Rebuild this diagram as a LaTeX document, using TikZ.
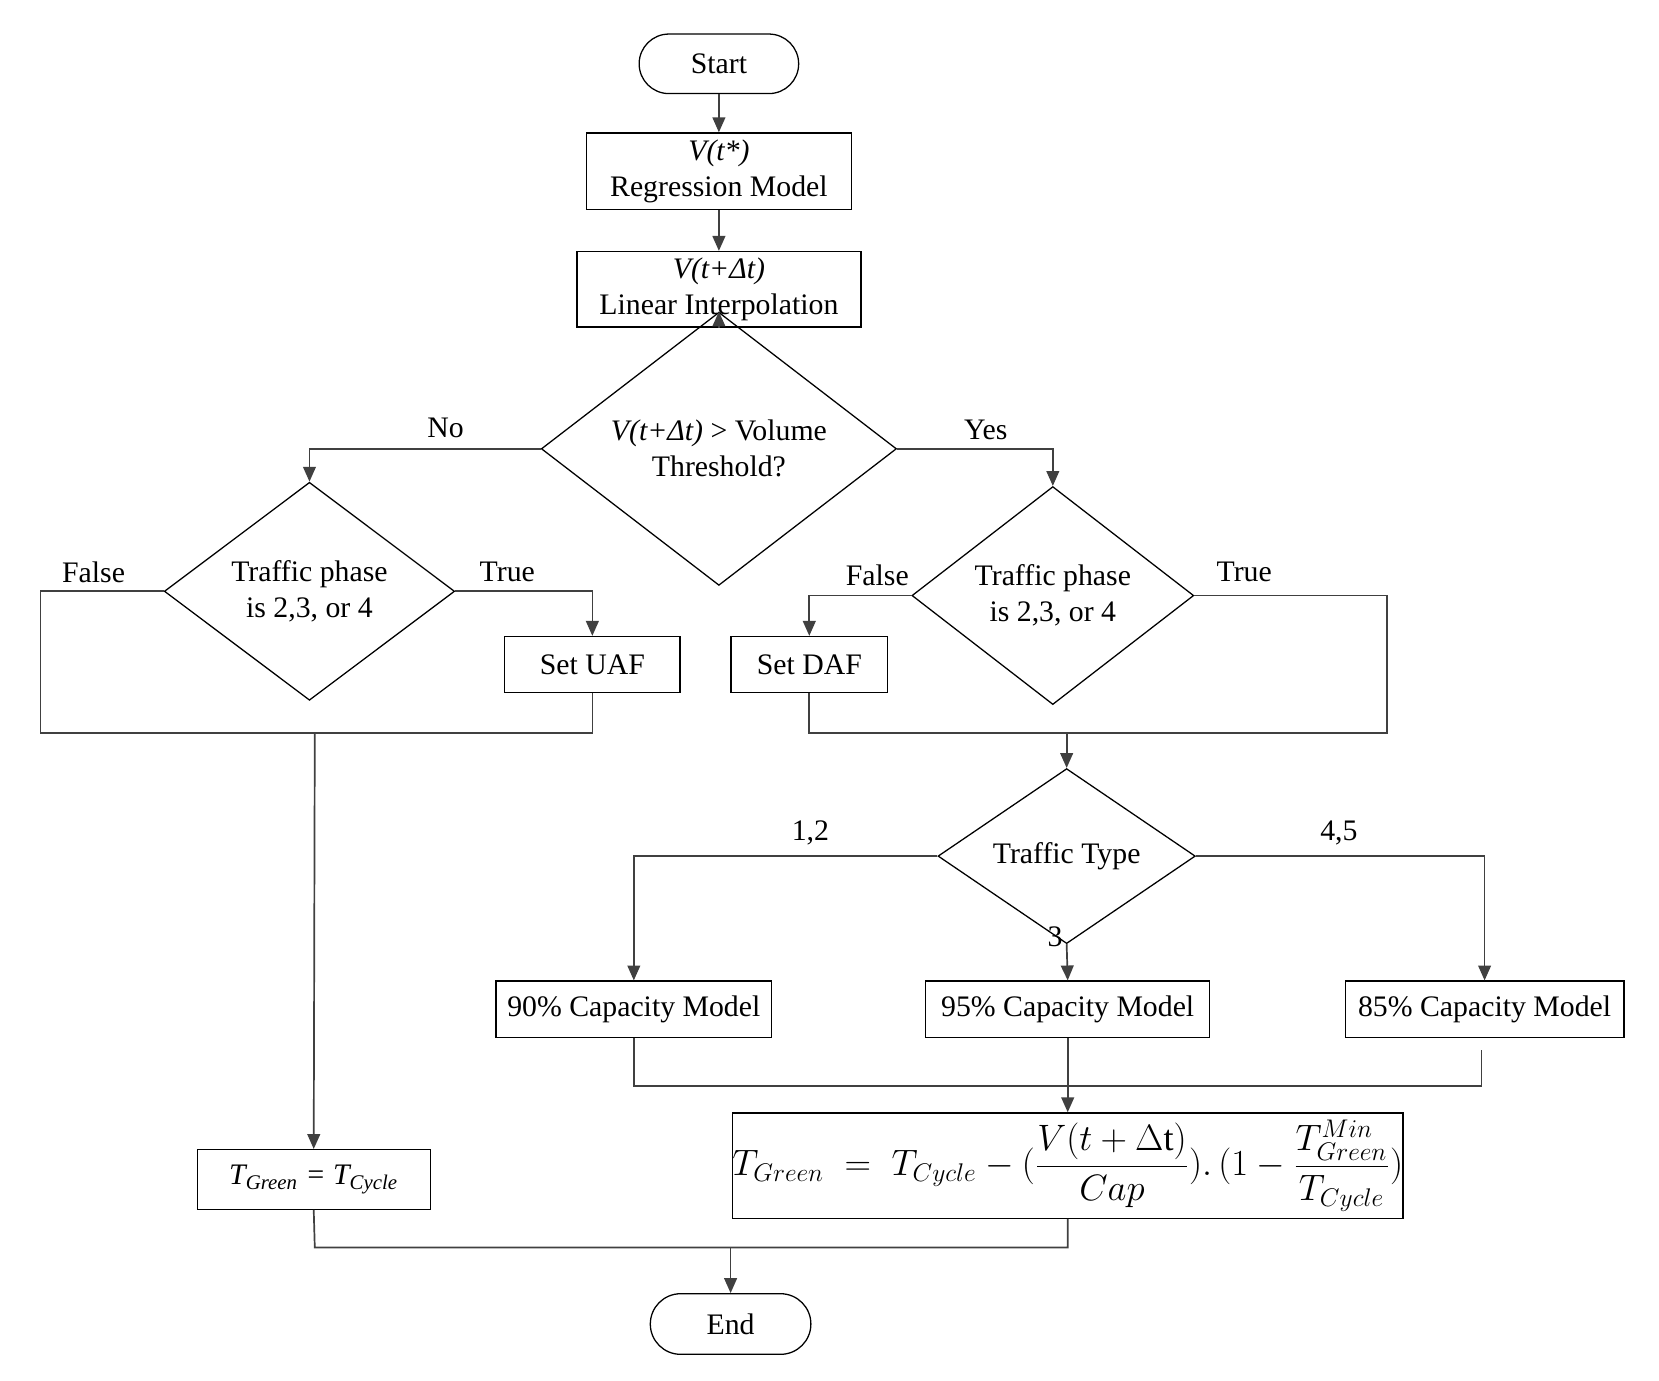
\documentclass[tikz,border=0pt]{standalone}
\usepackage{amsmath}
\usepackage{fontspec}
\setmainfont{Liberation Serif}
\usetikzlibrary{shapes.geometric,arrows.meta}
\begin{document}
\begin{tikzpicture}[x=0.5pt,y=-0.5pt,
  font=\fontsize{14}{17}\selectfont,
  box/.style={draw=black,line width=0.6pt,rectangle,inner sep=0pt,align=center},
  term/.style={draw=black,line width=0.6pt,rounded rectangle,inner sep=0pt},
  dia/.style={draw=black,line width=0.6pt,diamond,inner sep=0pt,align=center},
  ln/.style={draw=black!75,line width=0.8pt},
  ar/.style={ln,-{Triangle[length=7pt,width=6pt]}},
  lab/.style={inner sep=1pt}]
\usetikzlibrary{shapes.misc}
\useasboundingbox (0,0) rectangle (1560,1298);
\node[term,minimum width=75pt,minimum height=28pt] (start) at (676,60) {Start};
\node[box,minimum width=124.5pt,minimum height=36pt] (b1) at (676,161) {\textit{V(t*)}\\Regression Model};
\node[box,minimum width=133.5pt,minimum height=35.5pt] (b2) at (676,272) {\textit{V(t+Δt)}\\Linear Interpolation};
\node[dia,minimum width=167pt,minimum height=78pt] (d1) at (676,422) {\textit{V(t+Δt)} > Volume\\Threshold?};
\node[dia,minimum width=136.5pt,minimum height=71.5pt] (d2) at (291,556) {Traffic phase\\is 2,3, or 4};
\node[dia,minimum width=132.5pt,minimum height=72.5pt] (d3) at (990,560) {Traffic phase\\is 2,3, or 4};
\node[box,minimum width=82.5pt,minimum height=26.5pt] (uaf) at (557,625) {Set UAF};
\node[box,minimum width=73.5pt,minimum height=26.5pt] (daf) at (761,625) {Set DAF};
\node[dia,minimum width=121pt,minimum height=61pt] (d4) at (1003,805) {Traffic Type};
\node[box,minimum width=129.5pt,minimum height=26.5pt] (m90) at (596,949) {90\% Capacity Model};
\node[box,minimum width=133.5pt,minimum height=26.5pt] (m95) at (1004,949) {95\% Capacity Model};
\node[box,minimum width=131pt,minimum height=26.5pt] (m85) at (1396,949) {85\% Capacity Model};
\node[box,minimum width=109.5pt,minimum height=28pt] (tg) at (295,1109) {\textit{T\textsubscript{Green} = T\textsubscript{Cycle}}};
\node[box,minimum width=309pt,minimum height=49.5pt,font=\fontsize{17}{20}\selectfont] (fm) at (1004,1096)
  {$T_{Green}\;=\;T_{Cycle}-(\dfrac{V(t+\Delta\mathrm{t})}{Cap}).\,(1-\dfrac{T^{Min}_{Green}}{T_{Cycle}})$};
\node[term,minimum width=75.5pt,minimum height=28.5pt] (end) at (687,1245) {End};

\draw[ar] (start) -- (b1);
\draw[ar] (b1) -- (b2);
\draw[ar] (b2) -- (d1);
\draw[ar] (d1.west) -| (d2.north);
\draw[ar] (d1.east) -| (d3.north);
\node[lab] at (419,402) {No};
\node[lab] at (927,404) {Yes};
% left
\draw[ar] (d2.east) -| (uaf.north);
\node[lab] at (477,538) {True};
\coordinate (lf) at (38,689);
\draw[ln] (d2.west) -- (38,556) -- (lf) -| (uaf.south);
\node[lab] at (88,538) {False};
\draw[ar] (296,689) -- (tg.north);
% right
\draw[ar] (d3.west) -| (daf.north);
\node[lab] at (825,541) {False};
\draw[ln] (d3.east) -- (1304,560) -- (1304,689) -| (daf.south);
\node[lab] at (1170,538) {True};
\draw[ar] (1003,689) -- (d4.north);
\draw[ar] (d4.west) -| (m90.north);
\draw[ar] (d4.east) -| (m85.north);
\draw[ar] (d4.south) -- (m95.north);
\node[lab] at (762,783) {1,2};
\node[lab] at (1259,783) {4,5};
\node[lab] at (992,881) {3};
\draw[ln] (m90.south) -- (596,1021) -- (1393,1021) -- (1393,987);
\draw[ar] (m95.south) -- (fm.north);
\draw[ln] (tg.south) -- (296,1173) -| (fm.south);
\draw[ar] (687,1173) -- (end.north);
\end{tikzpicture}
\end{document}
